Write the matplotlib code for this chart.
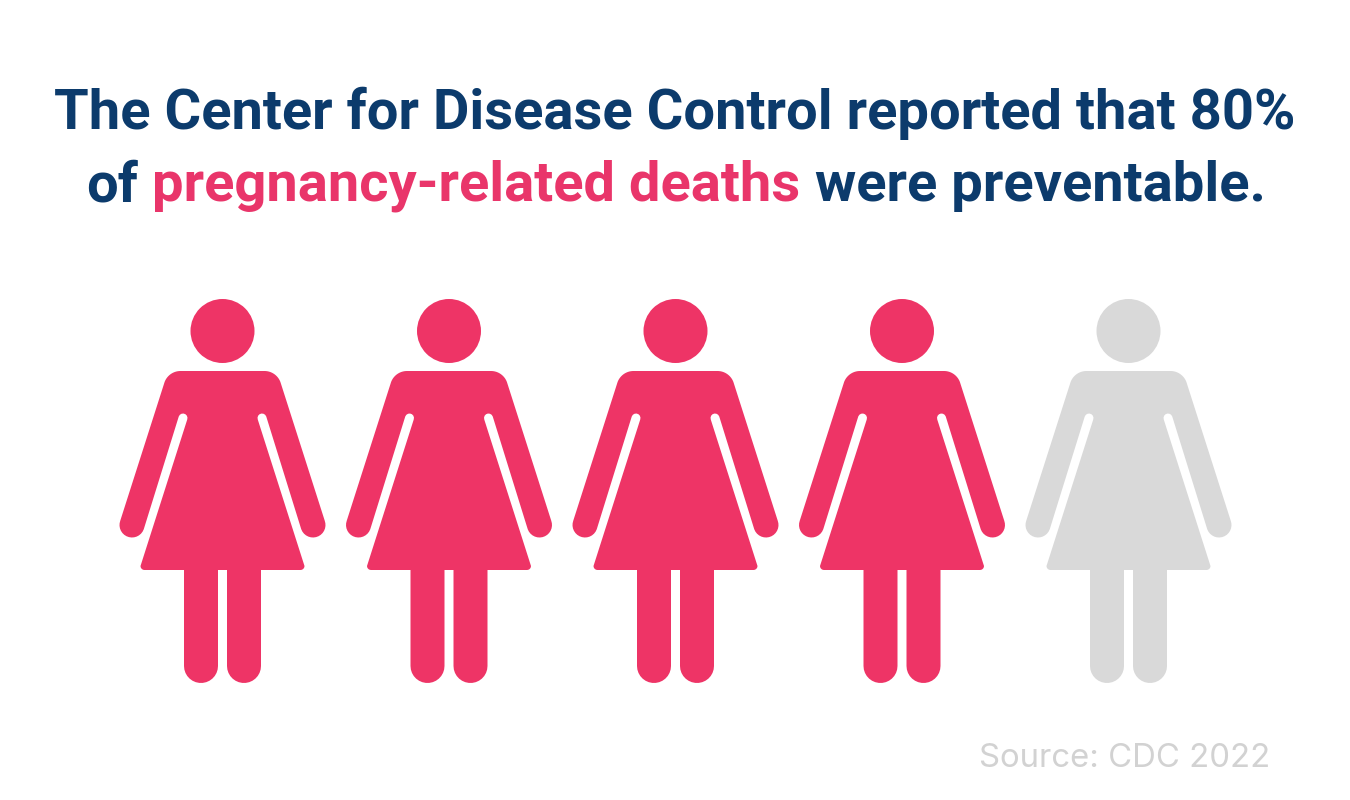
import numpy as np
import matplotlib
matplotlib.use("Agg")
import matplotlib.pyplot as plt
from matplotlib.patches import Circle, Polygon

# ── Data ──────────────────────────────────────────────────────────────────────
PREVENTABLE = [1, 1, 1, 1, 0]   # one figure = 20% of deaths
LINE_1 = [("The Center for Disease Control reported that 80%", "navy")]
LINE_2 = [("of ", "navy"), ("pregnancy-related deaths", "pink"), (" were preventable.", "navy")]
SOURCE = "Source: CDC 2022"

COLORS = {"navy": "#0C3B6C", "pink": "#E9356A", "on": "#EE3466", "off": "#D9D9D9", "source": "#D2D2D2"}
FONT = "Roboto"
TITLE_SIZE = 40.4

# ── Icon layout (pixels, y down) ──────────────────────────────────────────────
FIRST_X = 222.5
STEP_X = 226.5
HEAD_Y = 331
HEAD_R = 32


def arc(cx, cy, r, a0, a1, n=16):
    a = np.radians(np.linspace(a0, a1, n))
    return np.column_stack([cx + r * np.cos(a), cy + r * np.sin(a)])


def body_outline():
    """Right half of the body from top centre to bottom centre, then mirrored."""
    half = np.vstack([
        [[0, 371]],
        arc(42, 388, 17, -90, -21),             # shoulder
        arc(90.5, 525, 12.5, -20, 160),         # hand
        arc(39.5, 418, 4.5, -20, -200, 8),      # top of the slit
        arc(78, 566, 4, 0, 90, 6),              # hem corner
        [[38.5, 570]],
        arc(21.5, 666, 17, 0, 180),             # foot
        [[4.5, 570], [0, 570]],
    ])
    left = half[::-1] * [-1, 1]
    return np.vstack([half, left])


def draw_line(ax, fig, parts, center_x, baseline):
    full = "".join(p[0] for p in parts)
    r = fig.canvas.get_renderer()

    def width(s):
        t = ax.text(0, 0, s, fontsize=TITLE_SIZE, fontweight="bold", family=FONT)
        w = t.get_window_extent(r).width
        t.remove()
        return w

    left = center_x - width(full) / 2
    prefix = ""
    for s, col in parts:
        stripped = s.strip()
        prefix_to_end = (prefix + s).rstrip()
        x = left + width(prefix_to_end) - width(stripped)
        ax.text(x, baseline, stripped, fontsize=TITLE_SIZE, fontweight="bold", family=FONT,
                color=COLORS[col], va="baseline", ha="left")
        prefix += s


fig = plt.figure(figsize=(13.5, 8), dpi=100)
ax = fig.add_axes([0, 0, 1, 1])
ax.set_xlim(0, 1350)
ax.set_ylim(800, 0)
ax.axis("off")

draw_line(ax, fig, LINE_1, 675, 129)
draw_line(ax, fig, LINE_2, 676, 201)

outline = body_outline()
for i, v in enumerate(PREVENTABLE):
    cx = FIRST_X + i * STEP_X
    col = COLORS["on"] if v else COLORS["off"]
    ax.add_patch(Circle((cx, HEAD_Y), HEAD_R, fc=col, ec="none"))
    ax.add_patch(Polygon(outline + [cx, 0], closed=True, fc=col, ec="none"))

ax.text(1270, 767, SOURCE, fontsize=23.7, family="Inter", color=COLORS["source"],
        ha="right", va="baseline")

fig.savefig("out.png", dpi=100)
